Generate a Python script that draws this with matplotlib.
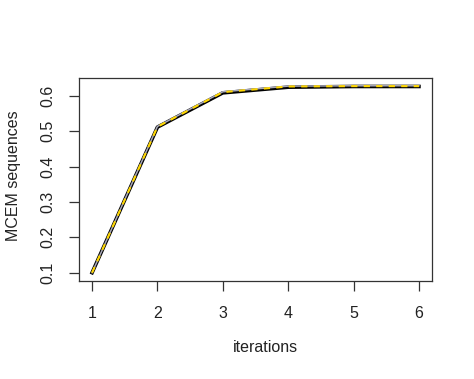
import matplotlib
matplotlib.use("Agg")
import matplotlib.pyplot as plt

iterations = [1, 2, 3, 4, 5, 6]
seq_black = [0.100, 0.512, 0.609, 0.625, 0.627, 0.627]
seq_gray = [0.100, 0.514, 0.612, 0.628, 0.629, 0.629]
seq_gold = [0.100, 0.513, 0.611, 0.627, 0.628, 0.628]
xticks = [1, 2, 3, 4, 5, 6]
yticks = [0.1, 0.2, 0.3, 0.4, 0.5, 0.6]

plt.rcParams['font.family'] = ['Liberation Sans', 'DejaVu Sans']

fig = plt.figure(figsize=(4.74, 3.79), dpi=100)
ax = fig.add_axes([79/474, 1 - 281/379, (432 - 79)/474, (281 - 78)/379])

ax.plot(iterations, seq_black, color='black', lw=2.6)
ax.plot(iterations, seq_gray, color='#A8A8B8', lw=1.1)
ax.plot(iterations, seq_gold, color='#FFD700', lw=1.5, dashes=(3, 3))

ax.set_xlim(0.8, 6.2)
ax.set_ylim(0.0765, 0.651)
ax.set_xticks(xticks)
ax.set_xticklabels([str(v) for v in xticks])
ax.set_yticks(yticks)
ax.set_yticklabels([f"{v:.1f}" for v in yticks], rotation=90, va='center')

ax.tick_params(axis='both', direction='out', length=7, width=0.9, labelsize=11.5,
               color='#333333', labelcolor='#222222')
ax.tick_params(axis='x', pad=11)
ax.tick_params(axis='y', pad=10)
for s in ax.spines.values():
    s.set_linewidth(0.9)
    s.set_color('#333333')

ax.set_xlabel('iterations', fontsize=11.5, color='#222222')
ax.set_ylabel('MCEM sequences', fontsize=11.5, color='#222222')
ax.xaxis.label.set_va('center')
ax.yaxis.label.set_va('center')
ax.xaxis.set_label_coords((265 - 79)/353, (281 - 348)/203)
ax.yaxis.set_label_coords((14 - 79)/353, (281 - 176)/203)

fig.savefig('out.png', dpi=100)
